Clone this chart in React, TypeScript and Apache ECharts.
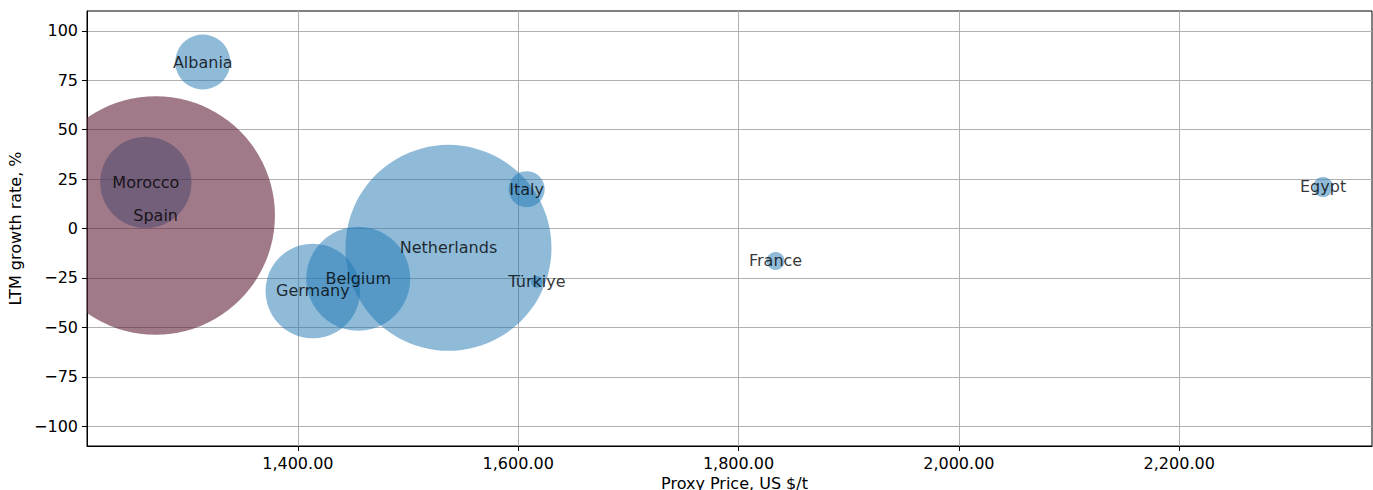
import React, { useEffect, useRef } from "react";
import * as echarts from "echarts";

const countries = ["Albania", "Morocco", "Germany", "Belgium", "Netherlands", "Italy", "Türkiye", "France", "Egypt", "Spain"];
const proxyPrice = [1313.7, 1262.0, 1413.6, 1454.8, 1536.7, 1607.7, 1617.0, 1833.6, 2330.6, 1270.9];
const growthRate = [84.2, 23.3, -31.6, -25.4, -9.8, 19.9, -27.0, -16.4, 21.0, 6.6];
const volume = [756, 2088, 2237, 2704, 10609, 324, 36, 81, 100, 14232];
const highlighted = ["Spain"];

const xTicks = [1400, 1600, 1800, 2000, 2200];
const yTicks = [-100, -75, -50, -25, 0, 25, 50, 75, 100];

const FONT = "DejaVu Sans";

function radius(v: number) {
  return Math.sqrt(v);
}

function bubbleSeries(data: any[], color: string, opacity: number, z: number) {
  return {
    type: "custom",
    z,
    clip: true,
    silent: true,
    data,
    encode: { x: 0, y: 1 },
    renderItem: (params: any, api: any) => {
      const pt = api.coord([api.value(0), api.value(1)]);
      return {
        type: "circle",
        shape: { cx: pt[0], cy: pt[1], r: radius(api.value(2)) },
        style: { fill: color, opacity },
      };
    },
  };
}

export default function App() {
  const ref = useRef<HTMLDivElement>(null);
  useEffect(() => {
    document.body.style.margin = "0";
    const chart = echarts.init(ref.current!, null, { renderer: "svg" });
    const rows = countries.map((c, i) => ({
      name: c,
      value: [proxyPrice[i], growthRate[i], volume[i]],
    }));
    const normal = rows.filter((r) => !highlighted.includes(r.name));
    const hi = rows.filter((r) => highlighted.includes(r.name));
    chart.setOption({
      animation: false,
      textStyle: { fontFamily: FONT },
      grid: {
        left: 87,
        right: 1,
        top: 11,
        bottom: 44,
        show: true,
        borderColor: "#000",
        borderWidth: 1,
        backgroundColor: "transparent",
        outerBoundsMode: "none",
        containLabel: false,
      },
      xAxis: {
        type: "value",
        min: 1208.6,
        max: 2375,
        name: "Proxy Price, US $/t",
        nameLocation: "middle",
        nameGap: 29,
        nameTextStyle: { fontSize: 16, color: "#000", fontFamily: FONT, padding: [0, 0, 0, 10] },
        axisLine: { show: true, onZero: false, lineStyle: { color: "#000", width: 1 } },
        axisTick: { show: true, inside: false, length: 5, customValues: xTicks, lineStyle: { color: "#000" } },
        axisLabel: {
          customValues: xTicks,
          fontSize: 16,
          color: "#000",
          margin: 9,
          fontFamily: FONT,
          formatter: (v: number) =>
            v.toLocaleString("en-US", { minimumFractionDigits: 2, maximumFractionDigits: 2 }),
        },
        splitLine: { show: true, lineStyle: { color: "#b0b0b0", width: 1 } },
      },
      yAxis: {
        type: "value",
        min: -110,
        max: 110,
        name: "LTM growth rate, %",
        nameLocation: "middle",
        nameGap: 54,
        nameTextStyle: { fontSize: 16, color: "#000", fontFamily: FONT },
        axisLine: { show: true, onZero: false, lineStyle: { color: "#000", width: 1 } },
        axisTick: { show: true, inside: false, length: 5, customValues: yTicks, lineStyle: { color: "#000" } },
        axisLabel: {
          customValues: yTicks,
          fontSize: 16,
          color: "#000",
          margin: 9,
          fontFamily: FONT,
          formatter: (v: number) => (v < 0 ? "\u2212" + Math.abs(v) : String(v)),
        },
        splitLine: { show: true, lineStyle: { color: "#b0b0b0", width: 1 } },
      },
      series: [
        bubbleSeries(normal, "#1f77b4", 0.5, 2),
        bubbleSeries(hi, "#612139", 0.6, 3),
        {
          type: "scatter",
          z: 10,
          data: rows,
          symbolSize: 1,
          itemStyle: { color: "rgba(0,0,0,0)" },
          label: {
            show: true,
            position: "inside",
            formatter: (p: any) => p.name,
            fontSize: 16,
            color: "#000",
            fontFamily: FONT,
          },
          silent: true,
        },
      ],
    });
    return () => chart.dispose();
  }, []);
  return <div ref={ref} style={{ width: 1373, height: 490 }} />;
}
